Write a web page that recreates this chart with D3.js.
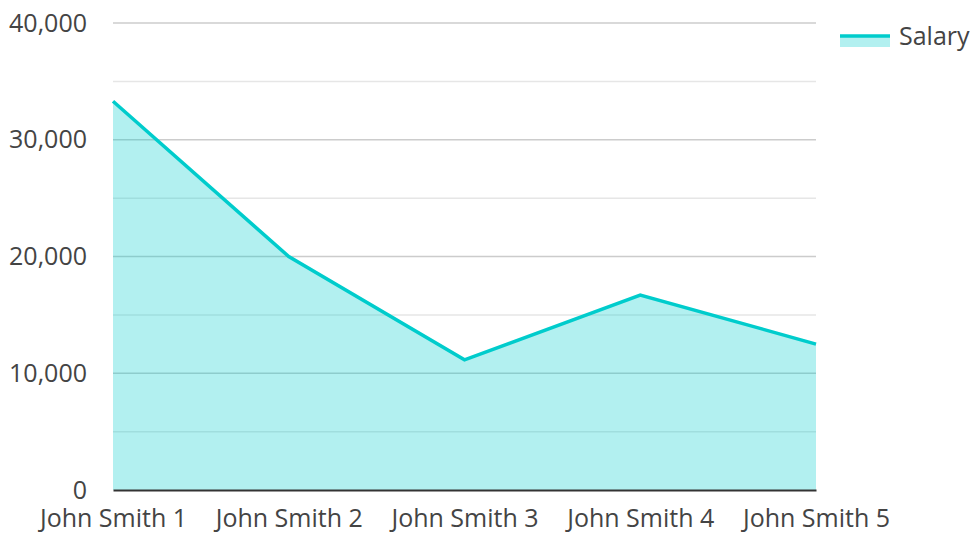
<!DOCTYPE html>
<html>
<head>
<meta charset="utf-8">
<script src="https://cdn.jsdelivr.net/npm/d3@7"></script>
<style>
  body { margin: 0; background: #fff; }
  svg text { font-family: "Open Sans", sans-serif; fill: #444; }
</style>
</head>
<body>
<div id="chart"></div>
<script>
// categorias y valores
const names = ["John Smith 1", "John Smith 2", "John Smith 3", "John Smith 4", "John Smith 5"];
const salary = [33300, 20000, 11150, 16700, 12500];
const yTicks = [0, 10000, 20000, 30000, 40000];
const minorTicks = [5000, 15000, 25000, 35000];
const seriesName = "Salary";

const W = 972, H = 533;
const m = { left: 113, right: 156, top: 23, bottom: 43 };
const color = "#00cccc";
const fs = 25;

const svg = d3.select("#chart").append("svg")
  .attr("width", W).attr("height", H);

const x = d3.scalePoint().domain(names).range([m.left, W - m.right]);
const y = d3.scaleLinear().domain([0, 40000]).range([H - m.bottom, m.top]);

// lineas de la rejilla
svg.append("g").selectAll("line.minor").data(minorTicks).join("line")
  .attr("x1", m.left).attr("x2", W - m.right)
  .attr("y1", d => y(d)).attr("y2", d => y(d))
  .attr("stroke", "#e6e6e6").attr("stroke-width", 1.5);

svg.append("g").selectAll("line.major").data(yTicks.filter(d => d > 0)).join("line")
  .attr("x1", m.left).attr("x2", W - m.right)
  .attr("y1", d => y(d)).attr("y2", d => y(d))
  .attr("stroke", "#cccccc").attr("stroke-width", 1.5);

// area
const pts = names.map((n, i) => ({ n, v: salary[i] }));
svg.append("path").datum(pts)
  .attr("d", d3.area().x(d => x(d.n)).y0(y(0)).y1(d => y(d.v)))
  .attr("fill", color).attr("fill-opacity", 0.3);

svg.append("path").datum(pts)
  .attr("d", d3.line().x(d => x(d.n)).y(d => y(d.v)))
  .attr("fill", "none").attr("stroke", color).attr("stroke-width", 3.5)
  .attr("stroke-linejoin", "miter");

// eje x
const xAxis = svg.append("g").attr("transform", `translate(0,${y(0)})`)
  .call(d3.axisBottom(x).tickSize(0).tickPadding(19));
xAxis.select(".domain").attr("stroke", "#333").attr("stroke-width", 2);
xAxis.selectAll("text").attr("font-size", fs);

// eje y
const yAxis = svg.append("g").attr("transform", `translate(${m.left - 26},0)`)
  .call(d3.axisLeft(y).tickValues(yTicks).tickSize(0).tickPadding(0).tickFormat(d3.format(",")));
yAxis.select(".domain").remove();
yAxis.selectAll("text").attr("font-size", fs);

// leyenda
const lg = svg.append("g").attr("transform", "translate(840,36)");
lg.append("rect").attr("x", 0).attr("y", 0).attr("width", 50).attr("height", 11)
  .attr("fill", color).attr("fill-opacity", 0.3);
lg.append("line").attr("x1", 0).attr("x2", 50).attr("y1", 0).attr("y2", 0)
  .attr("stroke", color).attr("stroke-width", 3.5);
lg.append("text").attr("x", 59).attr("y", 0).attr("dy", "0.35em")
  .attr("font-size", fs).text(seriesName);
</script>
</body>
</html>
